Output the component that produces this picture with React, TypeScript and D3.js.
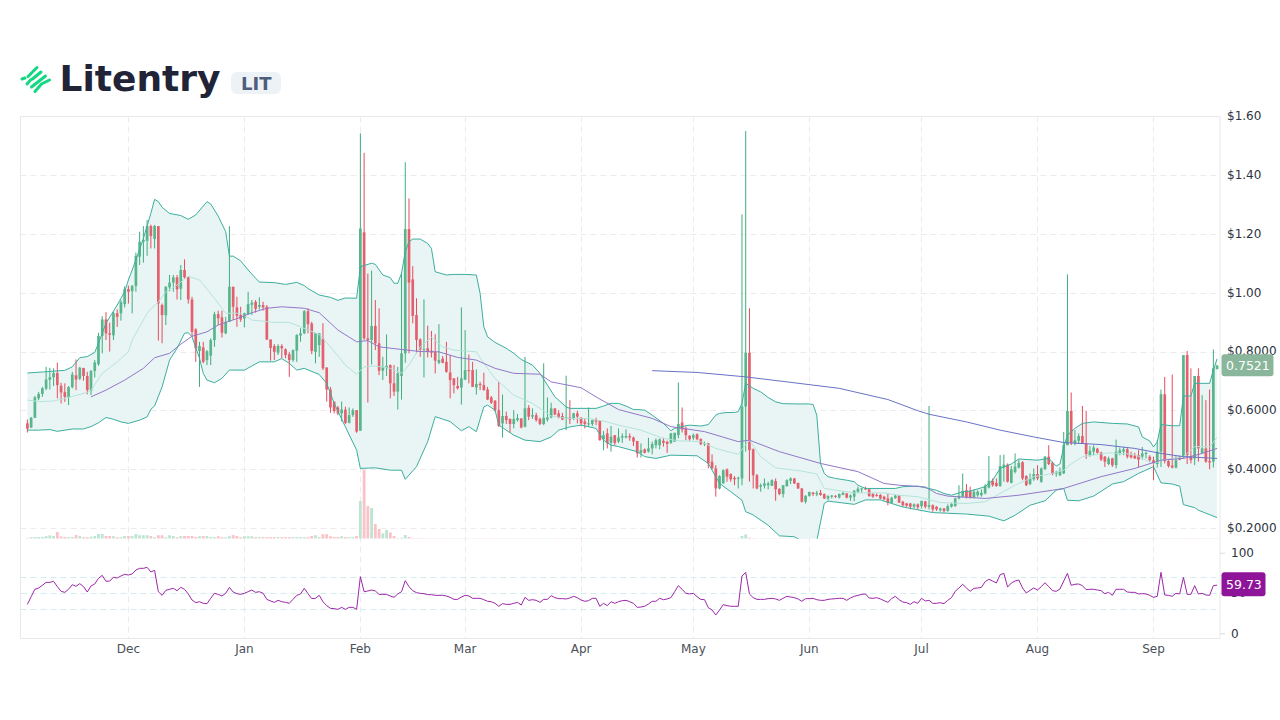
import { useRef, useEffect } from 'react';
import * as d3 from 'd3';

const startDay = new Date(Date.UTC(2020, 10, 4));

const priceTicks = [1.6, 1.4, 1.2, 1.0, 0.8, 0.6, 0.4, 0.2];
const rsiTicks = [100, 50, 0];
const rsiGuides = [70, 50, 30];
const monthTicks = [
  new Date(Date.UTC(2020, 11, 1)),
  new Date(Date.UTC(2021, 0, 1)),
  new Date(Date.UTC(2021, 1, 1)),
  new Date(Date.UTC(2021, 2, 1)),
  new Date(Date.UTC(2021, 3, 1)),
  new Date(Date.UTC(2021, 4, 1)),
  new Date(Date.UTC(2021, 5, 1)),
  new Date(Date.UTC(2021, 6, 1)),
  new Date(Date.UTC(2021, 7, 1)),
  new Date(Date.UTC(2021, 8, 1)),
];

const opens = [
  .556, .542, .575, .641, .656, .674, .704, .713, .727, .684,
  .662, .644, .679, .719, .708, .744, .717, .667, .734, .757,
  .853, .909, .862, .855, .930, .930, .961, 1.012, 1.005, 1.023,
  1.122, 1.173, 1.176, 1.226, 1.182, 1.226, .958, .923, 1.018, 1.034,
  1.052, 1.013, 1.077, 1.052, .977, .875, .802, .814, .771, .786,
  .839, .927, .916, .862, .901, 1.020, .950, .924, .912, .927,
  .959, .969, .952, .958, .952, .841, .819, .796, .819, .808,
  .791, .771, .803, .854, .862, .937, .895, .799, .822, .845,
  .746, .671, .630, .610, .590, .603, .558, .584, .601, .531,
  1.205, .845, .839, .887, .828, .735, .743, .754, .692, .664,
  .717, .794, 1.216, 1.045, .924, .841, .805, .811, .803, .799,
  .762, .776, .765, .729, .709, .683, .678, .705, .737, .737,
  .678, .690, .686, .671, .644, .633, .601, .556, .581, .571,
  .554, .567, .573, .545, .609, .579, .584, .571, .554, .569,
  .576, .607, .590, .581, .573, .576, .571, .590, .576, .562,
  .554, .554, .567, .564, .502, .522, .490, .516, .494, .508,
  .508, .513, .508, .496, .456, .468, .460, .471, .482, .482,
  .497, .494, .490, .494, .516, .559, .539, .514, .507, .519,
  .503, .485, .488, .426, .403, .335, .352, .400, .384, .371,
  .369, .369, .613, .796, .468, .380, .341, .344, .346, .344,
  .360, .334, .316, .343, .361, .369, .354, .335, .290, .310,
  .321, .315, .320, .316, .301, .307, .310, .304, .313, .318,
  .304, .307, .324, .332, .335, .332, .316, .313, .313, .307,
  .301, .286, .302, .311, .290, .284, .284, .273, .281, .275,
  .291, .273, .278, .273, .261, .267, .259, .273, .275, .301,
  .307, .329, .327, .304, .312, .312, .318, .338, .361, .354,
  .343, .406, .416, .354, .391, .406, .424, .377, .350, .366,
  .384, .358, .401, .443, .422, .386, .380, .386, .482, .598,
  .488, .497, .513, .488, .446, .460, .470, .457, .443, .418,
  .437, .414, .452, .460, .468, .448, .446, .448, .443, .452,
  .443, .431, .418, .460, .655, .428, .413, .406, .443, .443,
  .788, .443, .437, .717, .456, .471, .428, .426, .741,
];

const highs = [
  .569, .578, .649, .663, .680, .748, .745, .743, .762, .694,
  .692, .683, .731, .773, .748, .745, .731, .737, .771, .864,
  .920, .934, .898, .935, .943, .975, 1.022, 1.024, 1.026, 1.136,
  1.207, 1.226, 1.247, 1.231, 1.230, 1.226, .963, 1.022, 1.060, 1.060,
  1.060, 1.094, 1.113, 1.054, .986, .879, .833, .833, .805, .845,
  .935, .939, .939, .918, 1.226, 1.020, .986, .952, .932, 1.003,
  .975, .975, .984, .969, .958, .841, .825, .825, .825, .811,
  .799, .807, .859, .879, .941, .947, .901, .862, .862, .896,
  .746, .680, .630, .615, .630, .613, .610, .607, .601, 1.541,
  1.475, 1.065, 1.075, .975, .947, .782, .858, .756, .754, .748,
  1.068, 1.443, 1.320, 1.090, .981, .845, .977, .888, .870, .859,
  .893, .785, .833, .788, .709, .714, .950, .873, .790, .765,
  .739, .697, .728, .680, .649, .635, .697, .654, .596, .573,
  .601, .588, .573, .782, .618, .607, .592, .576, .760, .644,
  .626, .607, .601, .592, .718, .635, .592, .599, .576, .573,
  .610, .569, .575, .567, .530, .539, .547, .516, .539, .522,
  .536, .522, .511, .497, .488, .471, .507, .494, .505, .505,
  .507, .497, .524, .524, .695, .610, .545, .516, .522, .522,
  .505, .494, .490, .451, .414, .380, .400, .403, .386, .377,
  .375, 1.266, 1.549, .947, .471, .384, .352, .369, .358, .366,
  .369, .335, .346, .366, .373, .371, .354, .337, .312, .324,
  .323, .327, .330, .318, .312, .313, .312, .318, .324, .320,
  .315, .330, .341, .337, .341, .335, .320, .318, .316, .310,
  .316, .307, .313, .313, .293, .286, .286, .284, .284, .293,
  .293, .615, .281, .275, .270, .269, .281, .286, .304, .346,
  .386, .350, .341, .332, .329, .332, .350, .445, .369, .369,
  .448, .450, .420, .411, .454, .433, .428, .380, .386, .403,
  .414, .406, .445, .482, .426, .395, .406, .527, 1.062, .661,
  .533, .522, .615, .598, .479, .482, .473, .460, .445, .443,
  .439, .501, .474, .476, .473, .460, .456, .465, .476, .460,
  .448, .443, .499, .671, .714, .431, .722, .448, .446, .788,
  .802, .743, .717, .743, .652, .635, .671, .807, .755,
];

const lows = [
  .525, .540, .575, .635, .646, .669, .671, .683, .641, .624,
  .629, .618, .675, .669, .703, .701, .655, .652, .712, .752,
  .794, .839, .800, .839, .884, .905, .950, .963, .930, 1.003,
  1.094, 1.102, 1.125, 1.150, 1.150, .837, .828, .890, 1.005, 1.003,
  .977, .975, 1.048, .963, .850, .765, .680, .760, .754, .754,
  .816, .890, .848, .859, .901, .907, .884, .901, .882, .924,
  .924, .932, .943, .939, .839, .769, .771, .788, .777, .777,
  .714, .765, .765, .833, .859, .862, .791, .760, .782, .737,
  .630, .592, .590, .584, .562, .554, .556, .578, .524, .531,
  .839, .627, .756, .805, .720, .703, .717, .641, .649, .603,
  .637, .762, .794, .896, .794, .782, .712, .780, .780, .726,
  .757, .760, .728, .641, .658, .671, .620, .703, .692, .680,
  .654, .669, .667, .635, .622, .596, .544, .508, .554, .524,
  .539, .562, .539, .542, .567, .571, .562, .550, .550, .562,
  .573, .584, .573, .567, .533, .554, .567, .556, .547, .539,
  .544, .547, .550, .497, .465, .471, .460, .482, .490, .490,
  .505, .497, .479, .440, .440, .454, .457, .451, .471, .468,
  .477, .456, .486, .494, .505, .525, .499, .497, .499, .499,
  .482, .479, .403, .400, .307, .332, .352, .358, .358, .346,
  .335, .346, .460, .358, .335, .332, .324, .335, .332, .343,
  .293, .312, .304, .341, .350, .350, .333, .287, .284, .307,
  .309, .309, .310, .299, .295, .301, .303, .301, .312, .301,
  .293, .292, .320, .321, .330, .307, .303, .307, .298, .295,
  .278, .284, .300, .286, .273, .273, .264, .267, .264, .267,
  .267, .264, .256, .259, .256, .253, .256, .270, .273, .298,
  .304, .301, .301, .301, .307, .307, .315, .335, .341, .341,
  .341, .358, .355, .352, .386, .403, .363, .343, .346, .361,
  .363, .354, .397, .414, .380, .375, .377, .384, .482, .482,
  .482, .486, .486, .435, .443, .448, .454, .428, .408, .414,
  .408, .403, .448, .448, .437, .437, .435, .408, .433, .437,
  .426, .363, .406, .408, .420, .406, .403, .403, .431, .437,
  .418, .420, .414, .426, .454, .422, .400, .406, .739,
];

const closes = [
  .538, .575, .644, .656, .675, .705, .713, .727, .686, .661,
  .646, .679, .722, .705, .745, .717, .669, .734, .763, .853,
  .909, .862, .857, .930, .918, .968, 1.012, 1.003, 1.023, 1.125,
  1.173, 1.179, 1.226, 1.192, 1.226, .963, .924, 1.020, 1.034, 1.052,
  1.011, 1.077, 1.052, .977, .867, .811, .819, .765, .801, .839,
  .927, .913, .864, .901, 1.020, .952, .921, .909, .930, .961,
  .966, .945, .958, .950, .841, .812, .799, .819, .811, .788,
  .771, .805, .856, .862, .937, .893, .802, .862, .862, .743,
  .671, .610, .598, .590, .603, .558, .584, .601, .528, 1.218,
  .845, .839, .887, .828, .735, .748, .751, .692, .664, .726,
  .794, 1.216, 1.034, .921, .839, .807, .808, .799, .796, .769,
  .771, .762, .731, .703, .686, .675, .709, .737, .735, .680,
  .690, .686, .669, .637, .626, .601, .547, .581, .567, .554,
  .571, .574, .542, .607, .579, .584, .567, .554, .575, .576,
  .607, .586, .576, .569, .576, .569, .590, .579, .556, .554,
  .556, .567, .562, .499, .516, .488, .511, .490, .508, .513,
  .513, .508, .494, .454, .465, .456, .471, .486, .499, .502,
  .490, .486, .522, .524, .554, .535, .516, .502, .516, .502,
  .485, .488, .420, .403, .335, .377, .397, .375, .366, .366,
  .371, .613, .796, .465, .380, .335, .346, .352, .352, .363,
  .332, .316, .346, .363, .369, .352, .335, .290, .310, .323,
  .316, .320, .313, .301, .309, .311, .307, .316, .320, .304,
  .311, .327, .334, .335, .332, .309, .307, .310, .301, .298,
  .286, .303, .311, .287, .278, .276, .273, .281, .271, .293,
  .273, .278, .264, .264, .267, .259, .275, .282, .301, .309,
  .327, .304, .304, .324, .324, .320, .344, .361, .346, .343,
  .411, .416, .358, .400, .409, .422, .369, .346, .369, .384,
  .369, .403, .443, .418, .384, .391, .395, .482, .598, .490,
  .499, .513, .488, .452, .463, .474, .456, .433, .426, .437,
  .414, .460, .465, .468, .443, .440, .437, .433, .454, .456,
  .431, .418, .460, .655, .428, .411, .406, .431, .433, .788,
  .448, .431, .717, .471, .471, .426, .423, .743, .7521,
];

const volumes = [
  .5, 1.5, 1.7, 1.7, 1.7, 2.5, 3.3, 2.7, 6.7, 2.3,
  1.7, 1.5, 1.7, 3.7, 2.7, 1.5, 1.5, 2, 2.7, 4.7,
  4.7, 2.7, 2.7, 2.5, 1.5, 1.5, 2.7, 2.7, 2.7, 4.7,
  3.5, 3.5, 3.5, 2.7, 1.5, 3.5, 3.5, 1.5, 3.5, 2.7,
  1.5, 2.7, 2.7, 2.7, 2.7, 1.7, 2.5, 2.7, 2.7, 1.7,
  1.5, 2.5, 1.5, 1.5, 2.5, 3.7, 2.7, 1.5, 2.5, 2.5,
  2.5, 1.5, 1.5, 1.5, 1.5, 1.5, 1.5, 1.5, 1.5, 1.5,
  1.5, 1.5, 1.5, 1.5, 1.5, 1.5, 2.7, 3.5, 1.7, 4.5,
  4.5, 2.5, 1.7, 1.7, 2.5, 1.5, 1.5, 1.5, 2.7, 37.7,
  68.7, 32.7, 30.7, 14.7, 9.7, 5.3, 8.7, 6.3, 2.7, .7,
  1, 3.7, 1.7, .6, .5, .5, .5, .4, .4, .4,
  .4, .4, .4, .4, .4, .4, .4, .4, .4, .4,
  .4, .4, .4, .4, .4, .4, .4, .4, .4, .4,
  .4, .4, .4, .4, .4, .4, .4, .4, .4, .4,
  .4, .4, .4, .4, .4, .4, .4, .4, .4, .4,
  .4, .4, .4, .4, .4, .4, .4, .4, .4, .4,
  .4, .4, .4, .4, .4, .4, .4, .4, .4, .4,
  .4, .4, .4, .4, .4, .4, .4, .4, .4, .4,
  .4, .4, .4, .4, .4, .4, .4, .4, .4, .4,
  .5, 2.7, 4.3, 1, .5, .4, .4, .4, .4, .4,
  .4, .4, .4, .4, .4, .4, .4, .4, .4, .4,
  .4, .4, .4, .4, .4, .4, .4, .4, .4, .4,
  .4, .4, .4, .4, .4, .4, .4, .4, .4, .4,
  .4, .4, .4, .4, .4, .4, .4, .4, .4, .4,
  .4, .4, .4, .4, .4, .4, .4, .4, .4, .4,
  .4, .4, .4, .4, .4, .4, .4, .4, .4, .4,
  .4, .4, .4, .4, .4, .4, .4, .4, .4, .4,
  .4, .4, .4, .4, .4, .4, .4, .4, .5, .5,
  .4, .4, .4, .4, .4, .4, .4, .4, .4, .4,
  .4, .4, .4, .4, .4, .4, .4, .4, .4, .4,
  .4, .4, .4, .5, .5, .4, .4, .4, .4, .5,
  .5, .4, .5, .5, .4, .4, .4, .5, .4,
];

const rsiValues = [
  35.9, 45.4, 54.6, 56.2, 59.5, 63.2, 63.2, 64.5, 57.9, 52.1,
  50.8, 54.6, 60.3, 58.3, 61.6, 57.9, 51.2, 58.7, 61.2, 68.2,
  71.9, 64.5, 64.9, 69.4, 68.6, 71.1, 73.2, 72.3, 73.6, 78.5,
  80.6, 80.6, 81.8, 76.1, 78.1, 51.6, 47.1, 53.3, 54.6, 55.8,
  52.9, 57.0, 54.6, 48.8, 41.3, 38.0, 39.2, 37.2, 36.8, 43.4,
  49.6, 48.3, 46.3, 49.6, 57.0, 51.2, 49.2, 48.3, 49.6, 51.6,
  53.7, 50.8, 51.6, 49.6, 42.1, 40.1, 38.4, 40.9, 39.2, 38.4,
  37.2, 42.1, 47.1, 48.8, 55.8, 49.2, 43.0, 43.4, 47.1, 39.2,
  34.3, 31.0, 30.6, 29.7, 32.2, 29.7, 32.2, 32.2, 29.7, 70.3,
  51.6, 52.5, 53.7, 52.5, 48.3, 48.3, 48.3, 46.3, 44.6, 48.8,
  51.6, 65.3, 57.9, 52.9, 50.4, 49.6, 49.2, 47.9, 47.9, 47.1,
  47.1, 47.1, 46.3, 44.6, 42.1, 42.1, 45.0, 47.1, 46.3, 43.4,
  43.4, 43.4, 41.7, 39.7, 39.2, 37.2, 33.5, 36.8, 35.9, 35.9,
  37.2, 38.4, 35.1, 44.6, 40.9, 41.7, 40.9, 38.4, 42.1, 42.1,
  46.7, 44.2, 43.0, 43.0, 42.6, 43.8, 45.9, 44.2, 41.3, 39.7,
  40.5, 43.4, 43.4, 33.5, 37.2, 34.3, 39.2, 37.2, 39.2, 40.5,
  40.9, 39.2, 37.2, 32.2, 32.6, 33.5, 36.3, 39.7, 39.7, 43.4,
  41.7, 42.6, 44.2, 51.6, 59.1, 54.6, 49.6, 48.8, 49.6, 45.4,
  42.1, 41.7, 31.8, 28.9, 22.7, 28.9, 35.5, 34.3, 33.5, 33.5,
  33.5, 71.1, 75.6, 48.8, 44.2, 42.1, 42.1, 42.1, 43.0, 43.4,
  42.6, 40.9, 43.4, 45.9, 45.0, 44.2, 42.6, 39.7, 43.0, 43.0,
  43.4, 41.7, 40.9, 40.9, 42.1, 42.6, 43.0, 43.4, 43.4, 40.9,
  43.8, 45.9, 47.1, 48.3, 48.8, 43.8, 43.4, 44.2, 42.6, 40.5,
  38.4, 43.0, 45.9, 41.7, 38.8, 38.0, 35.9, 39.2, 37.2, 43.4,
  40.1, 40.9, 37.2, 37.2, 38.0, 36.8, 40.9, 44.2, 52.1, 56.2,
  60.8, 56.2, 52.1, 55.8, 56.2, 57.0, 64.1, 67.0, 64.9, 62.4,
  72.7, 74.4, 57.4, 62.4, 64.9, 66.1, 56.2, 50.0, 53.3, 56.2,
  53.7, 57.9, 62.8, 57.9, 52.9, 52.1, 55.0, 64.9, 74.4, 59.5,
  60.8, 61.2, 59.1, 54.1, 54.6, 54.6, 53.7, 52.9, 49.2, 50.8,
  47.1, 54.6, 54.6, 54.6, 51.2, 50.8, 50.8, 48.8, 49.2, 48.8,
  47.1, 44.6, 45.9, 75.6, 47.5, 47.1, 45.9, 49.6, 48.8, 69.4,
  48.3, 48.3, 59.1, 48.8, 49.6, 47.5, 47.1, 59.1, 59.73,
];

const upperDays = [0, 10, 12, 14, 16, 18, 19, 21, 24, 26, 27, 29, 31, 33, 34, 35, 36, 38, 41, 43, 45, 47, 48, 49, 51, 53, 54, 55, 57, 59, 61, 62, 66, 69, 72, 74, 75, 78, 81, 83, 85, 88, 89, 92, 93, 95, 97, 98, 99, 100, 101, 102, 103, 105, 107, 108, 109, 112, 114, 117, 120, 121, 122, 123, 125, 128, 130, 132, 135, 137, 139, 141, 144, 145, 152, 154, 156, 158, 160, 162, 163, 165, 167, 170, 172, 173, 176, 177, 180, 182, 184, 185, 187, 189, 190, 191, 192, 194, 196, 198, 200, 202, 206, 209, 210, 211, 212, 213, 214, 216, 219, 221, 222, 224, 232, 234, 238, 243, 245, 247, 250, 252, 256, 258, 260, 263, 265, 270, 273, 275, 276, 277, 278, 280, 282, 285, 290, 294, 297, 298, 300, 301, 302, 303, 306, 308, 309, 311, 312, 316, 317, 318];
const upperBand = [.727, .736, .748, .779, .783, .797, .828, .896, .958, 1.003, 1.043, 1.111, 1.184, 1.269, 1.317, 1.309, 1.290, 1.269, 1.262, 1.249, 1.264, 1.294, 1.309, 1.301, 1.260, 1.207, 1.124, 1.124, 1.108, 1.077, 1.049, 1.036, 1.034, 1.028, 1.035, 1.024, 1.014, .992, .984, .974, .982, .981, 1.088, 1.100, 1.096, 1.060, 1.051, 1.032, 1.032, 1.066, 1.139, 1.173, 1.182, 1.182, 1.167, 1.150, 1.071, 1.060, 1.062, 1.062, 1.060, .998, .884, .850, .831, .811, .794, .773, .754, .726, .686, .646, .612, .607, .607, .615, .624, .624, .615, .603, .603, .601, .584, .556, .531, .539, .548, .550, .547, .552, .584, .590, .593, .593, .596, .624, .692, .675, .663, .644, .629, .623, .622, .622, .620, .584, .420, .386, .375, .369, .363, .358, .346, .335, .335, .341, .343, .329, .318, .312, .324, .326, .341, .363, .403, .418, .435, .431, .437, .411, .418, .476, .516, .539, .556, .561, .556, .554, .544, .510, .496, .476, .493, .552, .548, .548, .649, .649, .692, .692, .737, .775];

const lowerDays = [0, 3, 6, 8, 12, 15, 17, 19, 21, 23, 25, 27, 30, 32, 33, 34, 36, 38, 40, 42, 43, 44, 46, 47, 48, 50, 52, 54, 56, 58, 60, 62, 66, 68, 70, 72, 74, 78, 80, 82, 85, 88, 89, 93, 97, 100, 101, 104, 107, 109, 113, 116, 118, 120, 122, 123, 125, 126, 130, 133, 137, 140, 142, 145, 148, 152, 154, 156, 158, 163, 165, 168, 172, 179, 182, 185, 188, 191, 192, 194, 198, 201, 205, 207, 211, 213, 214, 221, 224, 228, 234, 242, 251, 257, 261, 264, 268, 272, 275, 277, 278, 281, 285, 290, 293, 297, 301, 303, 306, 308, 309, 312, 313, 318];
const lowerBand = [.533, .533, .535, .529, .537, .537, .545, .558, .576, .570, .561, .556, .567, .578, .604, .615, .680, .771, .811, .862, .864, .850, .777, .726, .703, .694, .709, .737, .737, .737, .751, .765, .765, .776, .760, .737, .743, .722, .692, .624, .544, .465, .403, .405, .397, .397, .366, .409, .494, .579, .562, .531, .545, .528, .612, .618, .601, .550, .516, .499, .494, .510, .533, .544, .550, .539, .499, .482, .477, .460, .443, .437, .448, .446, .420, .352, .324, .295, .256, .245, .210, .174, .171, .157, .157, .284, .292, .281, .296, .296, .272, .253, .248, .241, .225, .244, .278, .293, .329, .335, .295, .293, .309, .350, .358, .386, .409, .354, .350, .343, .280, .270, .261, .236];

const middleDays = [0, 3, 7, 10, 16, 17, 20, 24, 27, 28, 32, 35, 37, 40, 43, 46, 50, 53, 57, 60, 66, 70, 73, 78, 81, 85, 88, 90, 93, 97, 100, 102, 105, 108, 111, 114, 120, 122, 125, 130, 135, 140, 144, 150, 155, 158, 164, 170, 174, 180, 184, 190, 193, 196, 200, 207, 211, 213, 221, 229, 233, 238, 244, 251, 256, 260, 264, 269, 273, 277, 279, 282, 289, 296, 301, 303, 309, 312, 316, 318];
const middleBand = [.635, .630, .632, .641, .661, .669, .726, .765, .799, .839, .930, .969, 1.003, 1.026, 1.056, 1.043, .981, .930, .930, .907, .899, .899, .884, .858, .816, .754, .723, .748, .751, .743, .726, .754, .816, .848, .816, .805, .799, .760, .709, .652, .624, .581, .573, .573, .561, .550, .533, .505, .497, .494, .471, .451, .499, .443, .405, .394, .384, .335, .320, .320, .312, .307, .287, .284, .290, .318, .346, .375, .383, .397, .418, .443, .456, .451, .418, .431, .443, .477, .477, .508];

const smaDays = [17, 21, 26, 31, 34, 38, 41, 44, 48, 51, 56, 60, 64, 68, 74, 78, 83, 88, 91, 94, 100, 105, 110, 115, 120, 125, 130, 137, 140, 148, 152, 158, 167, 172, 181, 190, 193, 201, 212, 222, 229, 233, 240, 243, 246, 256, 265, 274, 277, 287, 296, 303, 309, 314, 318];
const smaShort = [.646, .669, .703, .743, .779, .794, .825, .852, .867, .890, .912, .932, .947, .952, .947, .932, .873, .833, .837, .816, .807, .800, .799, .780, .771, .743, .726, .723, .697, .677, .646, .603, .573, .545, .528, .494, .499, .460, .420, .392, .352, .346, .340, .318, .309, .301, .312, .329, .335, .375, .403, .431, .437, .454, .471];

const longDays = [167, 179, 192, 203, 217, 230, 238, 241, 251, 260, 269, 277, 287, 296, 303, 309, 318];
const smaLong = [.735, .729, .714, .697, .675, .637, .599, .587, .561, .533, .510, .491, .484, .471, .454, .443, .437];

const logoStrokes = [
  'M22 79 L25 78',
  'M28 76.5 L37 67.5',
  'M27 84 L31 79.5',
  'M32.5 79 L41 72',
  'M31.5 87 L45.5 76',
  'M35 91.5 L41.5 84 L49.5 80',
];

const font = '"DejaVu Sans", sans-serif';

const App = () => {
  const svgRef = useRef<SVGSVGElement | null>(null);

  useEffect(() => {
    if (!svgRef.current) return;

    const svg = d3.select(svgRef.current);
    svg.selectAll('*').remove();

    const frame = { left: 20.5, right: 1220, top: 116.5, bottom: 638.5, priceBottom: 538.7 };
    const dayOf = (i: number) => d3.utcDay.offset(startDay, i);

    const x = d3.scaleUtc().domain([startDay, dayOf(318)]).range([27.4, 1217.1]);
    const y = d3.scaleLinear().domain([0.2, 1.6]).range([528.2, 116]);
    const volumeY = d3.scaleLinear().domain([0, 70]).range([frame.priceBottom, frame.priceBottom - 70]);
    const rsiY = d3.scaleLinear().domain([0, 100]).range([633.3, 552.7]);

    svg.append('defs')
      .append('clipPath')
      .attr('id', 'price-clip')
      .append('rect')
      .attr('x', frame.left)
      .attr('y', frame.top)
      .attr('width', frame.right - frame.left)
      .attr('height', frame.priceBottom - frame.top);

    // logo and title
    const head = svg.append('g');
    head.selectAll('path')
      .data(logoStrokes)
      .join('path')
      .attr('d', (d) => d)
      .attr('fill', 'none')
      .attr('stroke', '#12d981')
      .attr('stroke-width', 3)
      .attr('stroke-linecap', 'round')
      .attr('stroke-linejoin', 'round');
    head.append('text')
      .attr('x', 59.5)
      .attr('y', 90.5)
      .attr('font-family', font)
      .attr('font-weight', 700)
      .attr('font-size', 36)
      .attr('fill', '#212336')
      .text('Litentry');
    head.append('rect')
      .attr('x', 231)
      .attr('y', 72)
      .attr('width', 50)
      .attr('height', 22)
      .attr('rx', 6)
      .attr('fill', '#edf2f7');
    head.append('text')
      .attr('x', 241)
      .attr('y', 89.5)
      .attr('font-family', font)
      .attr('font-weight', 700)
      .attr('font-size', 18)
      .attr('fill', '#4f5d7c')
      .text('LIT');

    // frame and grid
    const grid = svg.append('g').attr('fill', 'none').attr('stroke-width', 1);
    grid.append('path')
      .attr('d', `M${frame.left} ${frame.top} H${frame.right} V${frame.bottom} H${frame.left} Z`)
      .attr('stroke', '#e8e8ea');
    grid.selectAll('line.month')
      .data(monthTicks)
      .join('line')
      .attr('class', 'month')
      .attr('x1', (d) => Math.floor(x(d)) + 0.5)
      .attr('x2', (d) => Math.floor(x(d)) + 0.5)
      .attr('y1', frame.top)
      .attr('y2', frame.bottom)
      .attr('stroke', '#ebebed')
      .attr('stroke-dasharray', '6 4');
    grid.selectAll('line.price')
      .data(priceTicks.slice(1))
      .join('line')
      .attr('class', 'price')
      .attr('x1', frame.left)
      .attr('x2', frame.right)
      .attr('y1', (d) => Math.round(y(d)) + 0.5)
      .attr('y2', (d) => Math.round(y(d)) + 0.5)
      .attr('stroke', '#ebebed')
      .attr('stroke-dasharray', '6 4');
    grid.selectAll('line.rsi')
      .data(rsiGuides)
      .join('line')
      .attr('class', 'rsi')
      .attr('x1', frame.left)
      .attr('x2', frame.right)
      .attr('y1', (d) => Math.round(rsiY(d)) + 0.5)
      .attr('y2', (d) => Math.round(rsiY(d)) + 0.5)
      .attr('stroke', '#d3ecf0')
      .attr('stroke-dasharray', '6 4');

    const pane = svg.append('g').attr('clip-path', 'url(#price-clip)');

    // volume
    pane.append('g')
      .selectAll('rect')
      .data(volumes)
      .join('rect')
      .attr('x', (_, i) => x(dayOf(i)) - 1.4)
      .attr('y', (d) => volumeY(d))
      .attr('width', 2.8)
      .attr('height', (d) => frame.priceBottom - volumeY(d))
      .attr('fill', (_, i) => (closes[i] >= opens[i] ? '#bde5d3' : '#fbc2c7'));

    // bollinger band fill
    const bandPoint = d3.line<[number, number]>()
      .x((d) => x(dayOf(d[0])))
      .y((d) => y(d[1]));
    const upperPoints = upperDays.map((d, i) => [d, upperBand[i]] as [number, number]);
    const lowerPoints = lowerDays.map((d, i) => [d, lowerBand[i]] as [number, number]);
    const middlePoints = middleDays.map((d, i) => [d, middleBand[i]] as [number, number]);
    const shortPoints = smaDays.map((d, i) => [d, smaShort[i]] as [number, number]);
    const longPoints = longDays.map((d, i) => [d, smaLong[i]] as [number, number]);

    pane.append('path')
      .attr('d', `${bandPoint([...upperPoints, ...lowerPoints.slice().reverse()])}Z`)
      .attr('fill', '#e9f5f4');

    // candles
    const candles = pane.append('g')
      .selectAll('g')
      .data(closes)
      .join('g');
    candles.append('rect')
      .attr('x', (_, i) => x(dayOf(i)) - 0.5)
      .attr('y', (_, i) => y(highs[i]))
      .attr('width', 1)
      .attr('height', (_, i) => y(lows[i]) - y(highs[i]))
      .attr('fill', (d, i) => (d >= opens[i] ? '#3fae7c' : '#e84c5f'));
    candles.append('rect')
      .attr('x', (_, i) => x(dayOf(i)) - 1.35)
      .attr('y', (d, i) => y(Math.max(d, opens[i])))
      .attr('width', 2.7)
      .attr('height', (d, i) => Math.max(1, Math.abs(y(d) - y(opens[i]))))
      .attr('fill', (d, i) => (d >= opens[i] ? '#58b58c' : '#e4606d'));

    // overlays
    const overlay = (points: [number, number][], color: string, width: number) =>
      pane.append('path')
        .attr('d', bandPoint(points))
        .attr('fill', 'none')
        .attr('stroke', color)
        .attr('stroke-width', width);
    overlay(middlePoints, '#b4e3db', 1);
    overlay(upperPoints, '#3bae9e', 1);
    overlay(lowerPoints, '#3bae9e', 1);
    overlay(shortPoints, '#9278c9', 1);
    overlay(longPoints, '#6a72c6', 1);

    // rsi line
    const rsiLine = d3.line<number>()
      .x((_, i) => x(dayOf(i)))
      .y((d) => rsiY(d));
    svg.append('path')
      .datum(rsiValues)
      .attr('d', rsiLine)
      .attr('fill', 'none')
      .attr('stroke', '#9c27a8')
      .attr('stroke-width', 1);

    // axes
    const styleAxis = (axis: d3.Selection<SVGGElement, unknown, null, undefined>) => {
      axis.select('.domain').remove();
      axis.selectAll('text')
        .attr('font-family', font)
        .attr('font-size', 12)
        .attr('fill', '#2d3440');
      axis.selectAll('line').attr('stroke', '#dcdcdf');
    };

    svg.append('g')
      .attr('transform', `translate(${frame.right},-0.5)`)
      .call(d3.axisRight(y)
        .tickValues(priceTicks)
        .tickSize(0)
        .tickPadding(7)
        .tickFormat((d) => (+d >= 1 ? `$${(+d).toFixed(2)}` : `$${(+d).toFixed(4)}`)))
      .call(styleAxis as any);

    svg.append('g')
      .attr('transform', `translate(${frame.right},0)`)
      .call(d3.axisRight(rsiY).tickValues(rsiTicks).tickSize(5).tickPadding(6))
      .call(styleAxis as any);

    svg.append('g')
      .attr('transform', `translate(-0.5,${frame.bottom})`)
      .call(d3.axisBottom(x)
        .tickValues(monthTicks)
        .tickSize(0)
        .tickPadding(5)
        .tickFormat((d) => d3.utcFormat('%b')(d as Date)))
      .call(styleAxis as any)
      .selectAll('text')
      .attr('dy', '0.8em')
      .attr('fill', '#4a5058');

    // last value badges
    const badge = (value: string, yPos: number, width: number, height: number, color: string) => {
      const g = svg.append('g').attr('transform', `translate(1221.5,${yPos})`);
      g.append('rect')
        .attr('y', -height / 2)
        .attr('width', width)
        .attr('height', height)
        .attr('rx', 3)
        .attr('fill', color);
      g.append('text')
        .attr('x', 4.5)
        .attr('dy', '0.35em')
        .attr('font-family', font)
        .attr('font-size', 12.5)
        .attr('fill', '#fff')
        .text(value);
    };
    badge(closes[closes.length - 1].toFixed(4), y(0.7521) - 0.5, 52, 22, '#8ab79c');
    badge(rsiValues[rsiValues.length - 1].toFixed(2), rsiY(59.73) - 1, 44, 24, '#8e1599');
  }, []);

  return (
    <svg
      ref={svgRef}
      width={1280}
      height={720}
      style={{ position: 'absolute', left: 0, top: 0, display: 'block', background: '#fff' }}
    />
  );
};

export default App;
